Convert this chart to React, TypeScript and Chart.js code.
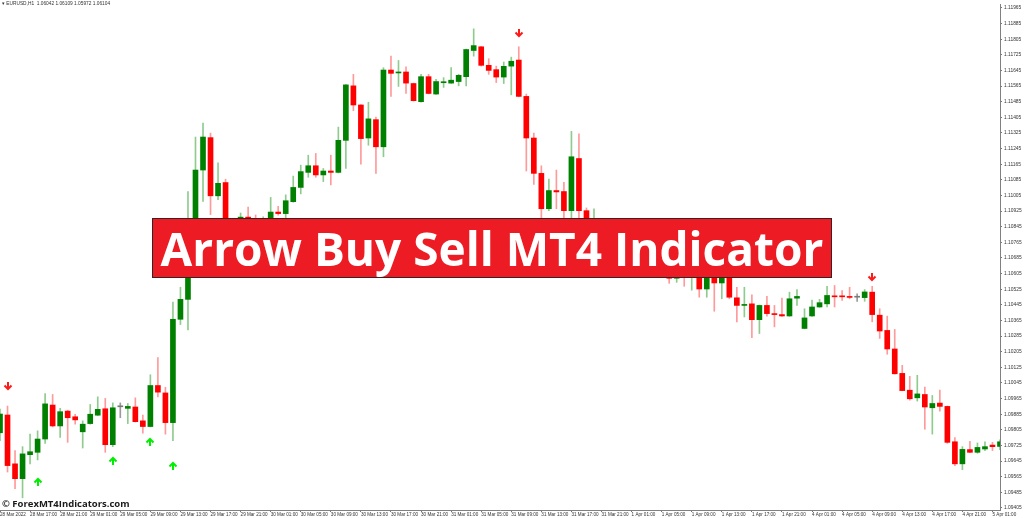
import React, { useEffect, useRef } from 'react';
import { Chart, registerables } from 'chart.js';

Chart.register(...registerables);

const symbolTitle = 'EURUSD,H1  1.06042 1.06109 1.05972 1.06104';
const bannerText = 'Arrow Buy Sell MT4 Indicator';
const watermarkText = '© ForexMT4Indicators.com';

// Hourly candles, 28 Mar 2022 13:00 -> 5 Apr 2022 02:00 (bar index 0..133)
const opens = [
  1.0979, 1.09881, 1.09631, 1.09555, 1.09678, 1.0969, 1.09758, 1.09932, 1.09825, 1.09901,
  1.09872, 1.09795, 1.09837, 1.0988, 1.09913, 1.09729, 1.09923, 1.09915, 1.09922, 1.09851,
  1.09822, 1.10032, 1.09994, 1.09842, 1.10371, 1.10473, 1.10687, 1.11135, 1.11301, 1.11003,
  1.11071, 1.10824, 1.10784, 1.10894, 1.10885, 1.10855, 1.10878, 1.1092, 1.10912, 1.10973,
  1.11046, 1.11123, 1.11157, 1.1111, 1.1113, 1.11123, 1.11287, 1.11566, 1.11468, 1.11299,
  1.11393, 1.11254, 1.11647, 1.11632, 1.11637, 1.11578, 1.11485, 1.11613, 1.11524, 1.11582,
  1.1158, 1.11588, 1.11613, 1.11747, 1.11766, 1.11671, 1.11649, 1.11611, 1.11667, 1.11698,
  1.11512, 1.11299, 1.11118, 1.10937, 1.1103, 1.11025, 1.10927, 1.11194, 1.10927, 1.10804,
  1.10855, 1.10763, 1.10713, 1.10743, 1.10672, 1.10652, 1.10702, 1.10631, 1.10662, 1.10611,
  1.10581, 1.10621, 1.10591, 1.10636, 1.10526, 1.10611, 1.10557, 1.10601, 1.10481, 1.10442,
  1.1045, 1.10369, 1.10442, 1.104, 1.10395, 1.10388, 1.10479, 1.10324, 1.10388, 1.10434,
  1.1045, 1.10489, 1.10489, 1.10486, 1.10484, 1.10482, 1.1051, 1.10392, 1.10314, 1.10219,
  1.10094, 1.10008, 1.09969, 1.09986, 1.09918, 1.09942, 1.09925, 1.09744, 1.09631, 1.09704,
  1.0969, 1.09707, 1.09727, 1.0972,
];
const highs = [
  1.09911, 1.09927, 1.09699, 1.09719, 1.09783, 1.098, 1.09991, 1.09986, 1.09915, 1.09905,
  1.09885, 1.09851, 1.09935, 1.09974, 1.09966, 1.09943, 1.09943, 1.0994, 1.09969, 1.09881,
  1.10087, 1.10175, 1.10023, 1.10459, 1.10535, 1.11025, 1.11304, 1.11375, 1.11324, 1.11172,
  1.11088, 1.10855, 1.10915, 1.10946, 1.10905, 1.10895, 1.10995, 1.10949, 1.11008, 1.11104,
  1.1116, 1.11211, 1.1122, 1.11143, 1.11211, 1.11355, 1.11573, 1.11625, 1.1147, 1.11482,
  1.11406, 1.11659, 1.11718, 1.11696, 1.11664, 1.1158, 1.11625, 1.11625, 1.116, 1.11608,
  1.11659, 1.11625, 1.11754, 1.11858, 1.11768, 1.11705, 1.11667, 1.11688, 1.11713, 1.11766,
  1.11524, 1.11324, 1.11157, 1.11089, 1.11135, 1.11072, 1.11333, 1.11321, 1.10941, 1.10937,
  1.10875, 1.10784, 1.10763, 1.10758, 1.10692, 1.10723, 1.10718, 1.10682, 1.10677, 1.10631,
  1.10641, 1.10636, 1.10652, 1.10652, 1.10631, 1.10621, 1.10621, 1.10611, 1.10535, 1.10535,
  1.10496, 1.10444, 1.10489, 1.10442, 1.10479, 1.1051, 1.10523, 1.10425, 1.10469, 1.10473,
  1.1054, 1.10544, 1.10518, 1.10535, 1.10501, 1.10523, 1.1054, 1.10425, 1.10387, 1.10319,
  1.10135, 1.10079, 1.10084, 1.10024, 1.09981, 1.10008, 1.09927, 1.09766, 1.09719, 1.09746,
  1.09738, 1.09744, 1.09741, 1.09754,
];
const lows = [
  1.09749, 1.09589, 1.09504, 1.09457, 1.09631, 1.09651, 1.09736, 1.0982, 1.09766, 1.09741,
  1.09834, 1.09712, 1.09834, 1.09878, 1.0969, 1.09719, 1.09867, 1.09837, 1.09845, 1.09788,
  1.0982, 1.09974, 1.09783, 1.09749, 1.10344, 1.10316, 1.10672, 1.10975, 1.10907, 1.10983,
  1.10804, 1.10763, 1.10763, 1.10855, 1.10834, 1.10824, 1.10855, 1.10904, 1.10881, 1.1097,
  1.11013, 1.11098, 1.11098, 1.11076, 1.11059, 1.1112, 1.11143, 1.11439, 1.11165, 1.11262,
  1.11118, 1.11203, 1.11512, 1.11563, 1.11527, 1.11488, 1.11483, 1.11525, 1.11522, 1.11558,
  1.11578, 1.11566, 1.11566, 1.11718, 1.11667, 1.11625, 1.11583, 1.11578, 1.1152, 1.1151,
  1.1113, 1.11062, 1.1088, 1.10927, 1.10937, 1.10881, 1.10875, 1.10865, 1.10773, 1.10784,
  1.10738, 1.10682, 1.10692, 1.10652, 1.10621, 1.10636, 1.10611, 1.10601, 1.10586, 1.10555,
  1.1056, 1.1054, 1.1052, 1.10484, 1.10484, 1.10412, 1.10476, 1.10476, 1.10358, 1.10383,
  1.10277, 1.10298, 1.10387, 1.10332, 1.10386, 1.10386, 1.10442, 1.10322, 1.10386, 1.10432,
  1.10434, 1.10434, 1.10468, 1.10476, 1.10463, 1.10463, 1.10358, 1.10273, 1.10192, 1.1009,
  1.10005, 1.09957, 1.09952, 1.09808, 1.09783, 1.09901, 1.09736, 1.09622, 1.09601, 1.09688,
  1.09685, 1.09699, 1.09699, 1.09704,
];
const closes = [
  1.09886, 1.09622, 1.09555, 1.09682, 1.09693, 1.09758, 1.09938, 1.09825, 1.09898, 1.09867,
  1.09856, 1.09834, 1.09885, 1.0991, 1.09729, 1.09918, 1.09923, 1.09925, 1.09847, 1.09822,
  1.10032, 1.09998, 1.09842, 1.10371, 1.10473, 1.10687, 1.11135, 1.11304, 1.11003, 1.11067,
  1.10824, 1.10784, 1.10894, 1.10886, 1.10865, 1.1088, 1.1092, 1.10912, 1.10978, 1.11046,
  1.11127, 1.11157, 1.1111, 1.1113, 1.11123, 1.11287, 1.11571, 1.11468, 1.11296, 1.11397,
  1.11254, 1.11647, 1.1163, 1.11637, 1.1158, 1.1149, 1.11613, 1.11527, 1.11588, 1.11584,
  1.11595, 1.1162, 1.11752, 1.11772, 1.11671, 1.11645, 1.11611, 1.11666, 1.11692, 1.11512,
  1.11299, 1.11118, 1.10937, 1.1103, 1.11023, 1.10927, 1.11203, 1.10927, 1.10804, 1.10855,
  1.10763, 1.10713, 1.10743, 1.10672, 1.10652, 1.10702, 1.10631, 1.10662, 1.10611, 1.10581,
  1.10621, 1.10591, 1.10636, 1.10526, 1.10611, 1.10557, 1.10601, 1.10484, 1.10442, 1.10447,
  1.10369, 1.10442, 1.104, 1.10395, 1.10388, 1.10476, 1.10488, 1.10378, 1.10434, 1.10456,
  1.10493, 1.10486, 1.10486, 1.10483, 1.10484, 1.10511, 1.10395, 1.10311, 1.10219, 1.10092,
  1.10006, 1.09964, 1.09989, 1.09922, 1.0994, 1.09925, 1.09741, 1.09631, 1.09705, 1.0969,
  1.09715, 1.09719, 1.09719, 1.09744,
];

// Indicator arrows (bar index, price)
const sellArrowBars = [1, 69, 116];
const sellArrowPrices = [1.10028, 1.11837, 1.10586];
const buyArrowBars = [5, 15, 20, 23];
const buyArrowPrices = [1.09536, 1.09643, 1.09744, 1.09622];

// Axis labels
const xTickEvery = 4;
const xTickLabels = [
  '28 Mar 2022', '28 Mar 17:00', '28 Mar 21:00', '29 Mar 01:00', '29 Mar 05:00', '29 Mar 09:00',
  '29 Mar 13:00', '29 Mar 17:00', '29 Mar 21:00', '30 Mar 01:00', '30 Mar 05:00', '30 Mar 09:00',
  '30 Mar 13:00', '30 Mar 17:00', '30 Mar 21:00', '31 Mar 01:00', '31 Mar 05:00', '31 Mar 09:00',
  '31 Mar 13:00', '31 Mar 17:00', '31 Mar 21:00', '1 Apr 01:00', '1 Apr 05:00', '1 Apr 09:00',
  '1 Apr 13:00', '1 Apr 17:00', '1 Apr 21:00', '4 Apr 01:00', '4 Apr 05:00', '4 Apr 09:00',
  '4 Apr 13:00', '4 Apr 17:00', '4 Apr 21:00', '5 Apr 01:00',
];
const yTicks = [
  1.11965, 1.11885, 1.11805, 1.11725, 1.11645, 1.11565, 1.11485, 1.11405, 1.11325, 1.11245,
  1.11165, 1.11085, 1.11005, 1.10925, 1.10845, 1.10765, 1.10685, 1.10605, 1.10525, 1.10445,
  1.10365, 1.10285, 1.10205, 1.10125, 1.10045, 1.09965, 1.09885, 1.09805, 1.09725, 1.09645,
  1.09565, 1.09485, 1.09405,
];
const yMin = 1.093947;
const yMax = 1.119802;

const UP = '#008000';
const DOWN = '#ff0000';
const FLAT = '#7a7a7a';
const UP_WICK = '#8fcb8f';
const DOWN_WICK = '#ff9a9a';
const FLAT_WICK = '#9a9a9a';

const arrowPlugin = {
  id: 'mt4Arrows',
  afterDatasetsDraw(chart: any) {
    const { ctx, scales } = chart;
    const xs = scales.x;
    const ys = scales.y;
    ctx.save();
    ctx.lineWidth = 2;
    ctx.lineCap = 'butt';
    ctx.lineJoin = 'miter';
    const draw = (bar: number, price: number, up: boolean, color: string) => {
      const px = Math.round(xs.getPixelForValue(bar));
      const py = Math.round(ys.getPixelForValue(price));
      ctx.strokeStyle = color;
      ctx.beginPath();
      if (up) {
        ctx.moveTo(px, py + 4);
        ctx.lineTo(px, py - 3);
        ctx.moveTo(px - 3.5, py + 0.5);
        ctx.lineTo(px, py - 3);
        ctx.lineTo(px + 3.5, py + 0.5);
      } else {
        ctx.moveTo(px, py - 4);
        ctx.lineTo(px, py + 3);
        ctx.moveTo(px - 3.5, py - 0.5);
        ctx.lineTo(px, py + 3);
        ctx.lineTo(px + 3.5, py - 0.5);
      }
      ctx.stroke();
    };
    sellArrowBars.forEach((b, i) => draw(b, sellArrowPrices[i], false, '#ff1a1a'));
    buyArrowBars.forEach((b, i) => draw(b, buyArrowPrices[i], true, '#00ee00'));
    ctx.restore();
  },
};

function ChartView() {
  const ref = useRef<HTMLCanvasElement | null>(null);
  useEffect(() => {
    if (!ref.current) return;
    const bodyColors = opens.map((o, i) => (closes[i] > o ? UP : closes[i] < o ? DOWN : FLAT));
    const wickColors = opens.map((o, i) => (closes[i] > o ? UP_WICK : closes[i] < o ? DOWN_WICK : FLAT_WICK));
    const bodies = opens.map((o, i) => ({ x: i, y: [o, closes[i]] }));
    const wicks = opens.map((_, i) => ({ x: i, y: [lows[i], highs[i]] }));
    const xFont = { family: 'Liberation Sans, Arial, sans-serif', size: 4.6 };
    const yFont = { family: 'Liberation Sans, Arial, sans-serif', size: 4.9 };
    const chart = new Chart(ref.current, {
      type: 'bar',
      data: {
        datasets: [
          {
            label: 'body',
            data: bodies as any,
            backgroundColor: bodyColors,
            barThickness: 5,
            minBarLength: 1,
            grouped: false,
            borderWidth: 0,
            borderSkipped: false,
          } as any,
          {
            label: 'wick',
            data: wicks as any,
            backgroundColor: wickColors,
            barThickness: 1,
            minBarLength: 1,
            grouped: false,
            borderWidth: 0,
            borderSkipped: false,
          } as any,
        ],
      },
      options: {
        animation: false,
        responsive: false,
        devicePixelRatio: 1,
        layout: { padding: 0 },
        plugins: { legend: { display: false }, tooltip: { enabled: false }, title: { display: false } },
        scales: {
          x: {
            type: 'linear',
            min: 0,
            max: opens.length - 1,
            offset: false,
            afterBuildTicks: (s: any) => {
              s.ticks = xTickLabels.map((_, k) => ({ value: k * xTickEvery }));
            },
            afterFit: (s: any) => {
              s.height = 8;
            },
            ticks: {
              autoSkip: false,
              maxRotation: 0,
              minRotation: 0,
              align: 'start',
              padding: 0,
              color: '#333',
              font: xFont,
              callback: (v: any) => xTickLabels[Math.round(Number(v) / xTickEvery)] ?? '',
            },
            grid: { display: true, drawOnChartArea: false, drawTicks: true, tickLength: 2, color: '#777', offset: false },
            border: { display: true, color: '#808080', width: 1 },
          },
          y: {
            type: 'linear',
            position: 'right',
            min: yMin,
            max: yMax,
            afterBuildTicks: (s: any) => {
              s.ticks = yTicks.map((v) => ({ value: v }));
            },
            afterFit: (s: any) => {
              s.width = 24;
            },
            ticks: {
              autoSkip: false,
              padding: 2,
              color: '#333',
              font: yFont,
              callback: (v: any) => Number(v).toFixed(5),
            },
            grid: { display: true, drawOnChartArea: false, drawTicks: true, tickLength: 2, color: '#777' },
            border: { display: true, color: '#808080', width: 1 },
          },
        },
      } as any,
      plugins: [arrowPlugin],
    });
    return () => chart.destroy();
  }, []);
  return <canvas ref={ref} width={1024} height={518} style={{ display: 'block', width: 1024, height: 518 }} />;
}

export default function App() {
  return (
    <div style={{ position: 'fixed', left: 0, top: 0, width: 1024, height: 518, background: '#fff', overflow: 'hidden' }}>
      <ChartView />
      <div
        style={{
          position: 'absolute',
          left: 2,
          top: 0,
          fontFamily: 'Liberation Sans, Arial, sans-serif',
          fontSize: 4.8,
          color: '#333',
          whiteSpace: 'pre',
          lineHeight: '7px',
        }}
      >
        {'▾ ' + symbolTitle}
      </div>
      <div
        style={{
          position: 'absolute',
          left: 152,
          top: 218,
          width: 680,
          height: 60,
          boxSizing: 'border-box',
          background: '#ed1c24',
          border: '1px solid #3a2020',
          display: 'flex',
          alignItems: 'center',
          justifyContent: 'center',
          color: '#fff',
          fontFamily: '"Open Sans", sans-serif',
          fontWeight: 700,
          fontSize: 46,
          whiteSpace: 'nowrap',
          lineHeight: 1,
        }}
      >
        {bannerText}
      </div>
      <div
        style={{
          position: 'absolute',
          left: 2,
          top: 498,
          fontFamily: '"Open Sans", sans-serif',
          fontWeight: 700,
          fontSize: 9.5,
          color: '#1a1a1a',
          whiteSpace: 'nowrap',
          lineHeight: '12px',
        }}
      >
        {watermarkText}
      </div>
    </div>
  );
}
